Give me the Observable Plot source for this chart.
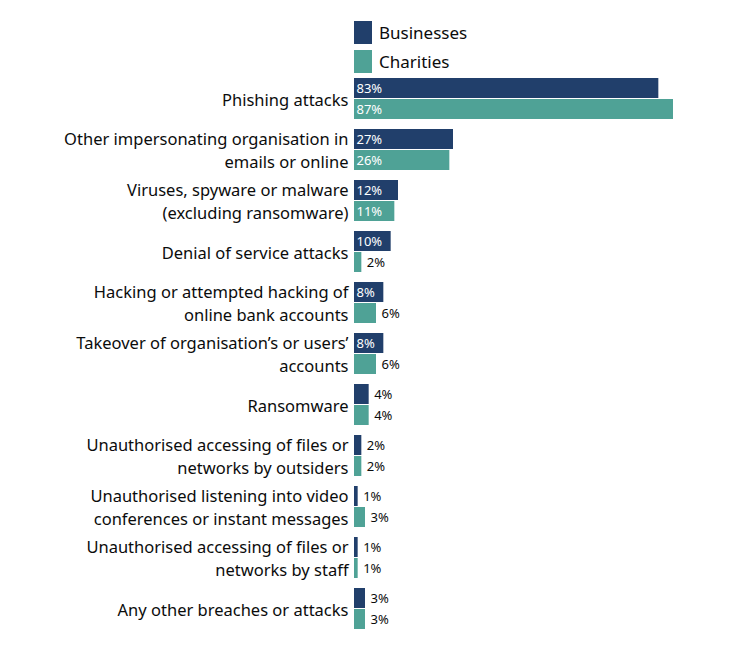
<!DOCTYPE html>
<html>
<head>
<meta charset="utf-8">
<script src="https://cdn.jsdelivr.net/npm/d3@7"></script>
<script src="https://cdn.jsdelivr.net/npm/@observablehq/plot@0.6"></script>
<style>
  body { margin: 0; background: #fff; font-family: "Noto Sans", sans-serif; }
  #legend { position: relative; height: 69px; width: 755px; }
  .item { position: absolute; left: 354px; display: flex; align-items: center; height: 23px; font-size: 17px; color: #0b0c0c; }
  .sw { width: 18px; height: 23px; margin-right: 7px; }
  #chart svg { display: block; }
</style>
</head>
<body>
<div id="legend"></div>
<div id="chart"></div>
<script>
const categories = [
  "Phishing attacks",
  "Other impersonating organisation in\nemails or online",
  "Viruses, spyware or malware\n(excluding ransomware)",
  "Denial of service attacks",
  "Hacking or attempted hacking of\nonline bank accounts",
  "Takeover of organisation’s or users’\naccounts",
  "Ransomware",
  "Unauthorised accessing of files or\nnetworks by outsiders",
  "Unauthorised listening into video\nconferences or instant messages",
  "Unauthorised accessing of files or\nnetworks by staff",
  "Any other breaches or attacks"
];
const businesses = [83, 27, 12, 10, 8, 8, 4, 2, 1, 1, 3];
const charities  = [87, 26, 11, 2, 6, 6, 4, 2, 3, 1, 3];
const series = ["Businesses", "Charities"];
const colors = ["#213f6b", "#4fa296"];

const data = categories.flatMap((c, i) => [
  {cat: c, series: series[0], value: businesses[i]},
  {cat: c, series: series[1], value: charities[i]}
]);

// legend
const legend = document.getElementById("legend");
series.forEach((s, i) => {
  const it = document.createElement("div");
  it.className = "item";
  it.style.top = (21 + i * 29) + "px";
  it.innerHTML = `<div class="sw" style="background:${colors[i]}"></div><span>${s}</span>`;
  legend.appendChild(it);
});

const inside = data.filter(d => d.value >= 8);
const outside = data.filter(d => d.value < 8);

const chart = Plot.plot({
  width: 755,
  height: 575,
  marginLeft: 354,
  marginRight: 82,
  marginTop: 3,
  marginBottom: 10,
  style: {fontFamily: "Noto Sans, sans-serif", background: "#fff"},
  x: {domain: [0, 87], axis: null},
  fy: {domain: categories, paddingInner: 0.17, paddingOuter: 0, label: null, axis: null},
  y: {domain: series, paddingInner: 0.05, paddingOuter: 0, axis: null},
  color: {domain: series, range: colors},
  marks: [
    Plot.axisFy({anchor: "left", tickSize: 0, tickPadding: 6, fontSize: 16.5, lineHeight: 1.36, label: null, fill: "#0b0c0c", tickFormat: d => d}),
    Plot.barX(data, {fy: "cat", y: "series", x: "value", fill: "series"}),
    Plot.text(inside, {fy: "cat", y: "series", x: 0, text: d => d.value + "%", dx: 2, textAnchor: "start", fill: "white", fontSize: 13}),
    Plot.text(outside, {fy: "cat", y: "series", x: "value", text: d => d.value + "%", dx: 5, textAnchor: "start", fill: "#0b0c0c", fontSize: 13})
  ]
});
document.getElementById("chart").appendChild(chart);
</script>
</body>
</html>
